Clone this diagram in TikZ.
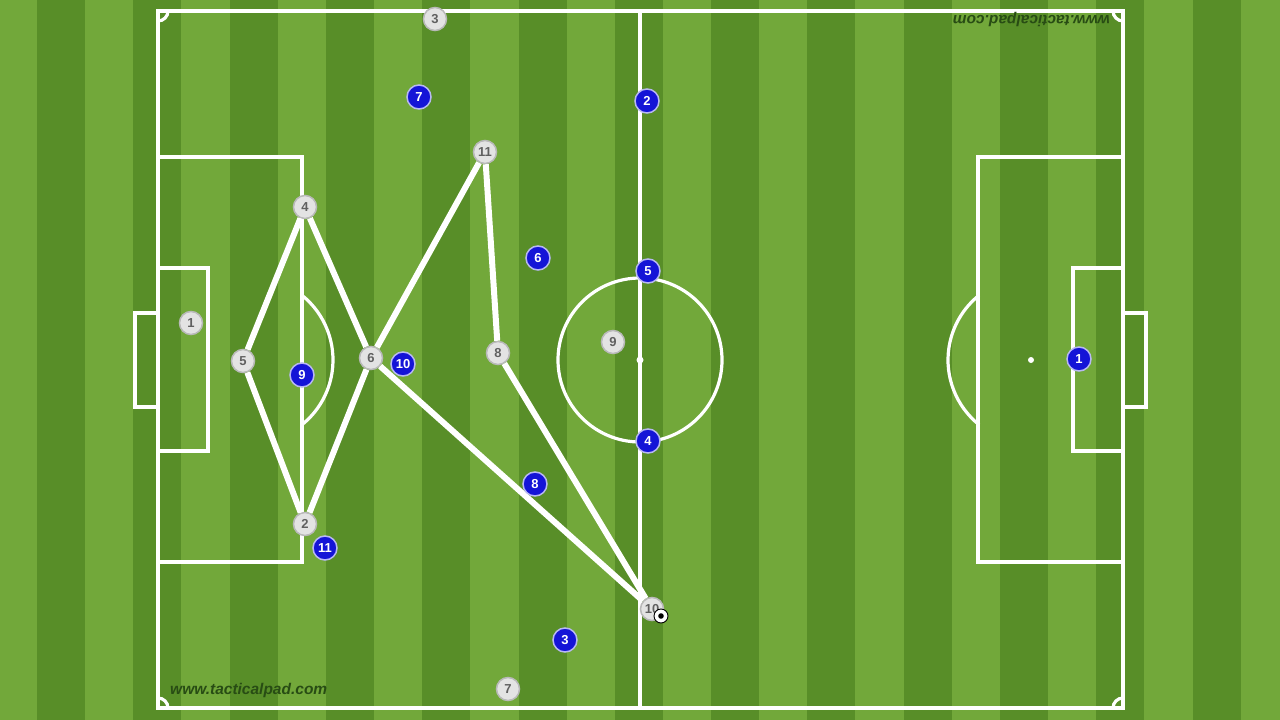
\documentclass[tikz,border=0pt]{standalone}
\usepackage{fontspec}
\usepackage{xcolor}
\newfontfamily\numfont{Liberation Sans}
\definecolor{grasslight}{RGB}{114,168,58}
\definecolor{grassdark}{RGB}{88,142,40}
\definecolor{teamblue}{RGB}{20,20,215}
\definecolor{markgreen}{RGB}{40,76,20}
\tikzset{
  pline/.style={white, line width=3.2pt},
  pass/.style={white, line width=6pt},
  homep/.style={circle, fill=gray!22, draw=gray!55, line width=1.5pt, minimum size=23pt, inner sep=0pt,
    font=\numfont\bfseries\fontsize{13}{13}\selectfont, text=gray!75!black},
  awayp/.style={circle, fill=teamblue, draw=white!70!teamblue, line width=1.5pt, minimum size=24pt, inner sep=0pt,
    font=\numfont\bfseries\fontsize{13}{13}\selectfont, text=white},
  site/.style={font=\numfont\bfseries\itshape\fontsize{15.5}{15.5}\selectfont, text=markgreen, inner sep=0pt}
}
\begin{document}
\begin{tikzpicture}[x=1pt,y=-1pt]
\useasboundingbox (0,0) rectangle (1280,720);

% grass
\fill[grasslight] (0,0) rectangle (1280,720);
\foreach \i in {0,...,12}
  \fill[grassdark] ({37+96.3*\i},0) rectangle +(48,720);

% pitch
\draw[pline] (158,11) rectangle (1123,708);
\draw[pline] (640,11) -- (640,708);
\draw[pline] (640,360) circle (82);
\fill[white] (640,360) circle (3.5);

\draw[pline] (158,157) rectangle (302,562);
\draw[pline] (158,268) rectangle (208,451);
\draw[pline] (158,313) -- (135,313) -- (135,407) -- (158,407);
\draw[pline] (250,360) ++(-51.2:83) arc[start angle=-51.2, end angle=51.2, radius=83];

\draw[pline] (1123,157) rectangle (978,562);
\draw[pline] (1123,268) rectangle (1073,451);
\draw[pline] (1123,313) -- (1146,313) -- (1146,407) -- (1123,407);
\draw[pline] (1031,360) ++(128.8:83) arc[start angle=128.8, end angle=231.2, radius=83];
\fill[white] (1031,360) circle (3);

\draw[pline] (168,11) arc[start angle=0, end angle=90, radius=10];
\draw[pline] (1113,11) arc[start angle=180, end angle=90, radius=10];
\draw[pline] (168,708) arc[start angle=0, end angle=-90, radius=10];
\draw[pline] (1113,708) arc[start angle=180, end angle=270, radius=10];

\node[site, anchor=west] (site) at (170,690) {www.tacticalpad.com};
\node[site, anchor=west, rotate=180] (siteflip) at (1110,20) {www.tacticalpad.com};

% white team
\node[homep] (g1) at (191,323) {1};
\node[homep] (g2) at (305,524) {2};
\node[homep] (g3) at (435,19) {3};
\node[homep] (g4) at (305,207) {4};
\node[homep] (g5) at (243,361) {5};
\node[homep] (g6) at (371,358) {6};
\node[homep] (g7) at (508,689) {7};
\node[homep] (g8) at (498,353) {8};
\node[homep] (g9) at (613,342) {9};
\node[homep] (g10) at (652,609) {10};
\node[homep] (g11) at (485,152) {11};

\draw[pass] (g4) -- (g5);
\draw[pass] (g5) -- (g2);
\draw[pass] (g4) -- (g6);
\draw[pass] (g2) -- (g6);
\draw[pass] (g6) -- (g11);
\draw[pass] (g11) -- (g8);
\draw[pass] (g8) -- (g10);
\draw[pass] (g6) -- (g10);

\node[circle, fill=white, draw=black, line width=0.9pt, minimum size=14pt, inner sep=0pt] (ball) at (661,616) {};
\fill[black] (ball.center) circle (2.8);

% blue team
\node[awayp] (b1) at (1079,359) {1};
\node[awayp] (b2) at (647,101) {2};
\node[awayp] (b3) at (565,640) {3};
\node[awayp] (b4) at (648,441) {4};
\node[awayp] (b5) at (648,271) {5};
\node[awayp] (b6) at (538,258) {6};
\node[awayp] (b7) at (419,97) {7};
\node[awayp] (b8) at (535,484) {8};
\node[awayp] (b9) at (302,375) {9};
\node[awayp] (b10) at (403,364) {10};
\node[awayp] (b11) at (325,548) {11};

\end{tikzpicture}
\end{document}
